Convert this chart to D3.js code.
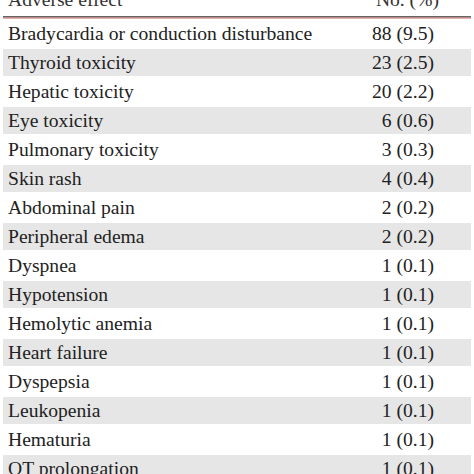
<!DOCTYPE html>
<html><head><meta charset="utf-8">
<script src="https://cdn.jsdelivr.net/npm/d3@7"></script>
<style>body{margin:0;background:#fff}</style></head>
<body><svg id="c" width="474" height="474"></svg>
<script>
const headers = ["Adverse effect", "No. (%)"];
const effects = ["Bradycardia or conduction disturbance","Thyroid toxicity","Hepatic toxicity","Eye toxicity","Pulmonary toxicity","Skin rash","Abdominal pain","Peripheral edema","Dyspnea","Hypotension","Hemolytic anemia","Heart failure","Dyspepsia","Leukopenia","Hematuria","QT prolongation"];
const counts = [88,23,20,6,3,4,2,2,1,1,1,1,1,1,1,1];
const percents = ["9.5","2.5","2.2","0.6","0.3","0.4","0.2","0.2","0.1","0.1","0.1","0.1","0.1","0.1","0.1","0.1"];

const svg = d3.select("#c");
const y = d3.scaleBand().domain(d3.range(effects.length)).range([19, 19 + 29*effects.length]).paddingInner(0);
const font = "'Liberation Serif', serif";
const fs = 19.6;
svg.append("text").attr("x",8).attr("y",6).text(headers[0]).attr("font-family",font).attr("font-size",fs).attr("fill","#333");
svg.append("text").attr("x",439).attr("y",6).attr("text-anchor","end").text(headers[1]).attr("font-family",font).attr("font-size",fs).attr("fill","#333");
svg.append("rect").attr("x",3).attr("y",16).attr("width",468).attr("height",1.5).attr("fill","#666");
svg.append("rect").attr("x",3).attr("y",17.5).attr("width",468).attr("height",1).attr("fill","#c86060");
const g = svg.selectAll("g.row").data(effects).join("g").attr("class","row");
g.append("rect").attr("x",3).attr("width",468).attr("y",(d,i)=>y(i)+1).attr("height",y.bandwidth()-2)
  .attr("fill",(d,i)=>i%2?"#e6e6e6":"#fff");
g.append("text").attr("x",8).attr("y",(d,i)=>y(i)+y.bandwidth()/2+6).text(d=>d)
  .attr("font-family",font).attr("font-size",fs).attr("fill","#222");
g.append("text").attr("x",434).attr("text-anchor","end").attr("y",(d,i)=>y(i)+y.bandwidth()/2+6)
  .text((d,i)=>counts[i]+" ("+percents[i]+")").attr("font-family",font).attr("font-size",fs).attr("fill","#222");
</script></body></html>
